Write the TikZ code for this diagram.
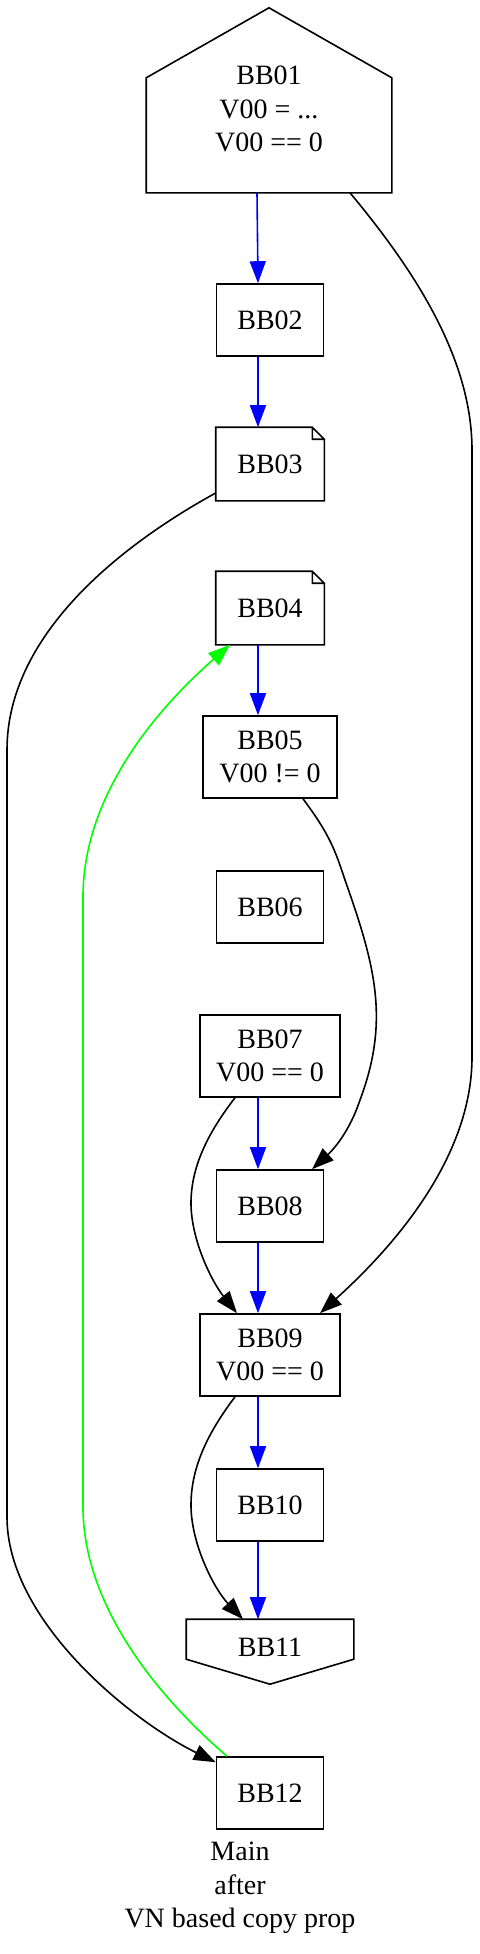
\documentclass[tikz,border=0pt]{standalone}
\usepackage{fontspec}
\setmainfont{Liberation Serif}
\usetikzlibrary{arrows.meta,calc}

\begin{document}
\begin{tikzpicture}[x=0.5pt, y=-0.5pt,
    bb/.style={draw, line width=0.8pt, minimum width=53.5pt, minimum height=36pt, inner sep=0pt, align=center, font=\fontsize{14}{16.8}\selectfont},
    bbtall/.style={bb, minimum width=70pt, minimum height=41pt},
    bbplain/.style={bb, draw=none},
    flow/.style={line width=0.8pt, -{Triangle[length=11pt,width=8pt]}},
    seq/.style={flow, blue},
    back/.style={flow, green}]
    \useasboundingbox (0,0) rectangle (480,1954);

    \node[bbplain, minimum width=122pt, minimum height=83pt] (bb01) at (269,109) {BB01\\V00 = ...\\V00 == 0};
    \draw[line width=0.8pt] (bb01.south west) -- (bb01.south east) -- ([yshift=57.5pt]bb01.south east) -- ([yshift=92.5pt]bb01.south) -- ([yshift=57.5pt]bb01.south west) -- cycle;
    \node[bb] (bb02) at (270,320) {BB02};
    \node[bbplain] (bb03) at (270,464) {BB03};
    \node[bbplain] (bb04) at (270,608) {BB04};
    \foreach \n in {bb03,bb04}
        \draw[line width=0.8pt] (\n.north west) -- ([xshift=-6pt]\n.north east) -- ([yshift=-6pt]\n.north east) -- (\n.south east) -- (\n.south west) -- cycle
            ([xshift=-6pt]\n.north east) -- ([xshift=-6pt,yshift=-6pt]\n.north east) -- ([yshift=-6pt]\n.north east);
    \node[bbtall, minimum width=67pt] (bb05) at (270,757) {BB05\\V00 != 0};
    \node[bb] (bb06) at (270,907) {BB06};
    \node[bbtall] (bb07) at (270,1056) {BB07\\V00 == 0};
    \node[bb] (bb08) at (270,1206) {BB08};
    \node[bbtall] (bb09) at (270,1355) {BB09\\V00 == 0};
    \node[bb] (bb10) at (270,1505) {BB10};
    \node[bbplain, minimum width=83pt, minimum height=27pt] (bb11) at (270,1647) {BB11};
    \draw[line width=0.8pt] (bb11.north west) -- (bb11.north east) -- ([yshift=-20pt]bb11.north east) -- ([yshift=-32.5pt]bb11.north) -- ([yshift=-20pt]bb11.north west) -- cycle;
    \node[bb] (bb12) at (270,1793) {BB12};
    \node[bbplain, draw=none] (title) at (240,1888) {Main\\after\\VN based copy prop};

    \draw[seq] ([xshift=-6pt]bb01.south) -- ([xshift=-6pt]bb02.north);
    \draw[seq] ([xshift=-6pt]bb02.south) -- ([xshift=-6pt]bb03.north);
    \draw[seq] ([xshift=-6pt]bb04.south) -- ([xshift=-6pt]bb05.north);
    \draw[seq] ([xshift=-6pt]bb07.south) -- ([xshift=-6pt]bb08.north);
    \draw[seq] ([xshift=-6pt]bb08.south) -- ([xshift=-6pt]bb09.north);
    \draw[seq] ([xshift=-6pt]bb09.south) -- ([xshift=-6pt]bb10.north);
    \draw[seq] ([xshift=-6pt]bb10.south) -- ([xshift=-6pt]bb11.north);
    \draw[flow] ([xshift=40.5pt]bb01.south) .. controls (410,265) and (472,355) .. (472,450) -- (472,1057) .. controls (472,1160) and (390,1250) .. ([xshift=25pt]bb09.north);
    \draw[flow] ([yshift=-14.5pt]bb03.west) .. controls (130,540) and (7,630) .. (7,750) -- (7,1517) .. controls (7,1620) and (130,1720) .. ([yshift=-3pt]bb12.north west);
    \draw[flow] ([xshift=16.5pt]bb05.south) .. controls (330,835) and (335,850) .. (345,880) .. controls (375,965) and (390,1020) .. (360,1100) .. controls (350,1130) and (335,1148) .. ([xshift=21pt]bb08.north);
    \draw[flow] ([xshift=-17.5pt]bb07.south) .. controls (210,1130) and (191,1165) .. (191,1203) .. controls (191,1240) and (212,1282) .. ([xshift=-16.5pt]bb09.north);
    \draw[flow] ([xshift=-17.5pt]bb09.south) .. controls (210,1430) and (191,1465) .. (191,1505) .. controls (191,1545) and (215,1590) .. ([xshift=-13.5pt]bb11.north);
    \draw[back] ([xshift=-21.5pt]bb12.north) .. controls (150,1690) and (83,1600) .. (83,1507) -- (83,897) .. controls (83,800) and (150,715) .. ([xshift=-20pt]bb04.south);
\end{tikzpicture}
\end{document}
